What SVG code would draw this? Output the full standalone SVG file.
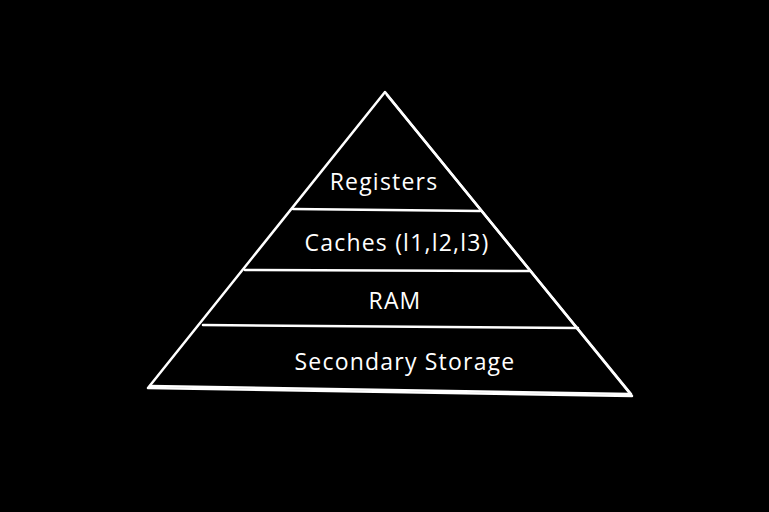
<svg xmlns="http://www.w3.org/2000/svg" width="769" height="512" viewBox="0 0 769 512">
<style>
.s{fill:none;stroke:#fff;stroke-width:2.5;stroke-linecap:round;stroke-linejoin:round}
.t{fill:#fff;font-family:"Open Sans",sans-serif;font-size:23px;letter-spacing:1.2px;text-anchor:middle}
</style>
<rect width="769" height="512" fill="#000"/>
<g id="pyramid">
<path class="s" d="M385 92 L148 388 L632 396 Z"/>
<path class="s" d="M387 95 L631 394" stroke-width="1.2"/>
<path class="s" d="M150 386 L630 394" stroke-width="1.2"/>
</g>
<g id="dividers">
<line class="s" x1="293" y1="209" x2="480" y2="211"/>
<line class="s" x1="245" y1="270" x2="530" y2="271"/>
<line class="s" x1="203" y1="325" x2="578" y2="328"/>
</g>
<g id="labels">
<text class="t" x="384" y="190">Registers</text>
<text class="t" x="397" y="251">Caches (l1,l2,l3)</text>
<text class="t" x="395" y="309">RAM</text>
<text class="t" x="405" y="370">Secondary Storage</text>
</g>
</svg>
